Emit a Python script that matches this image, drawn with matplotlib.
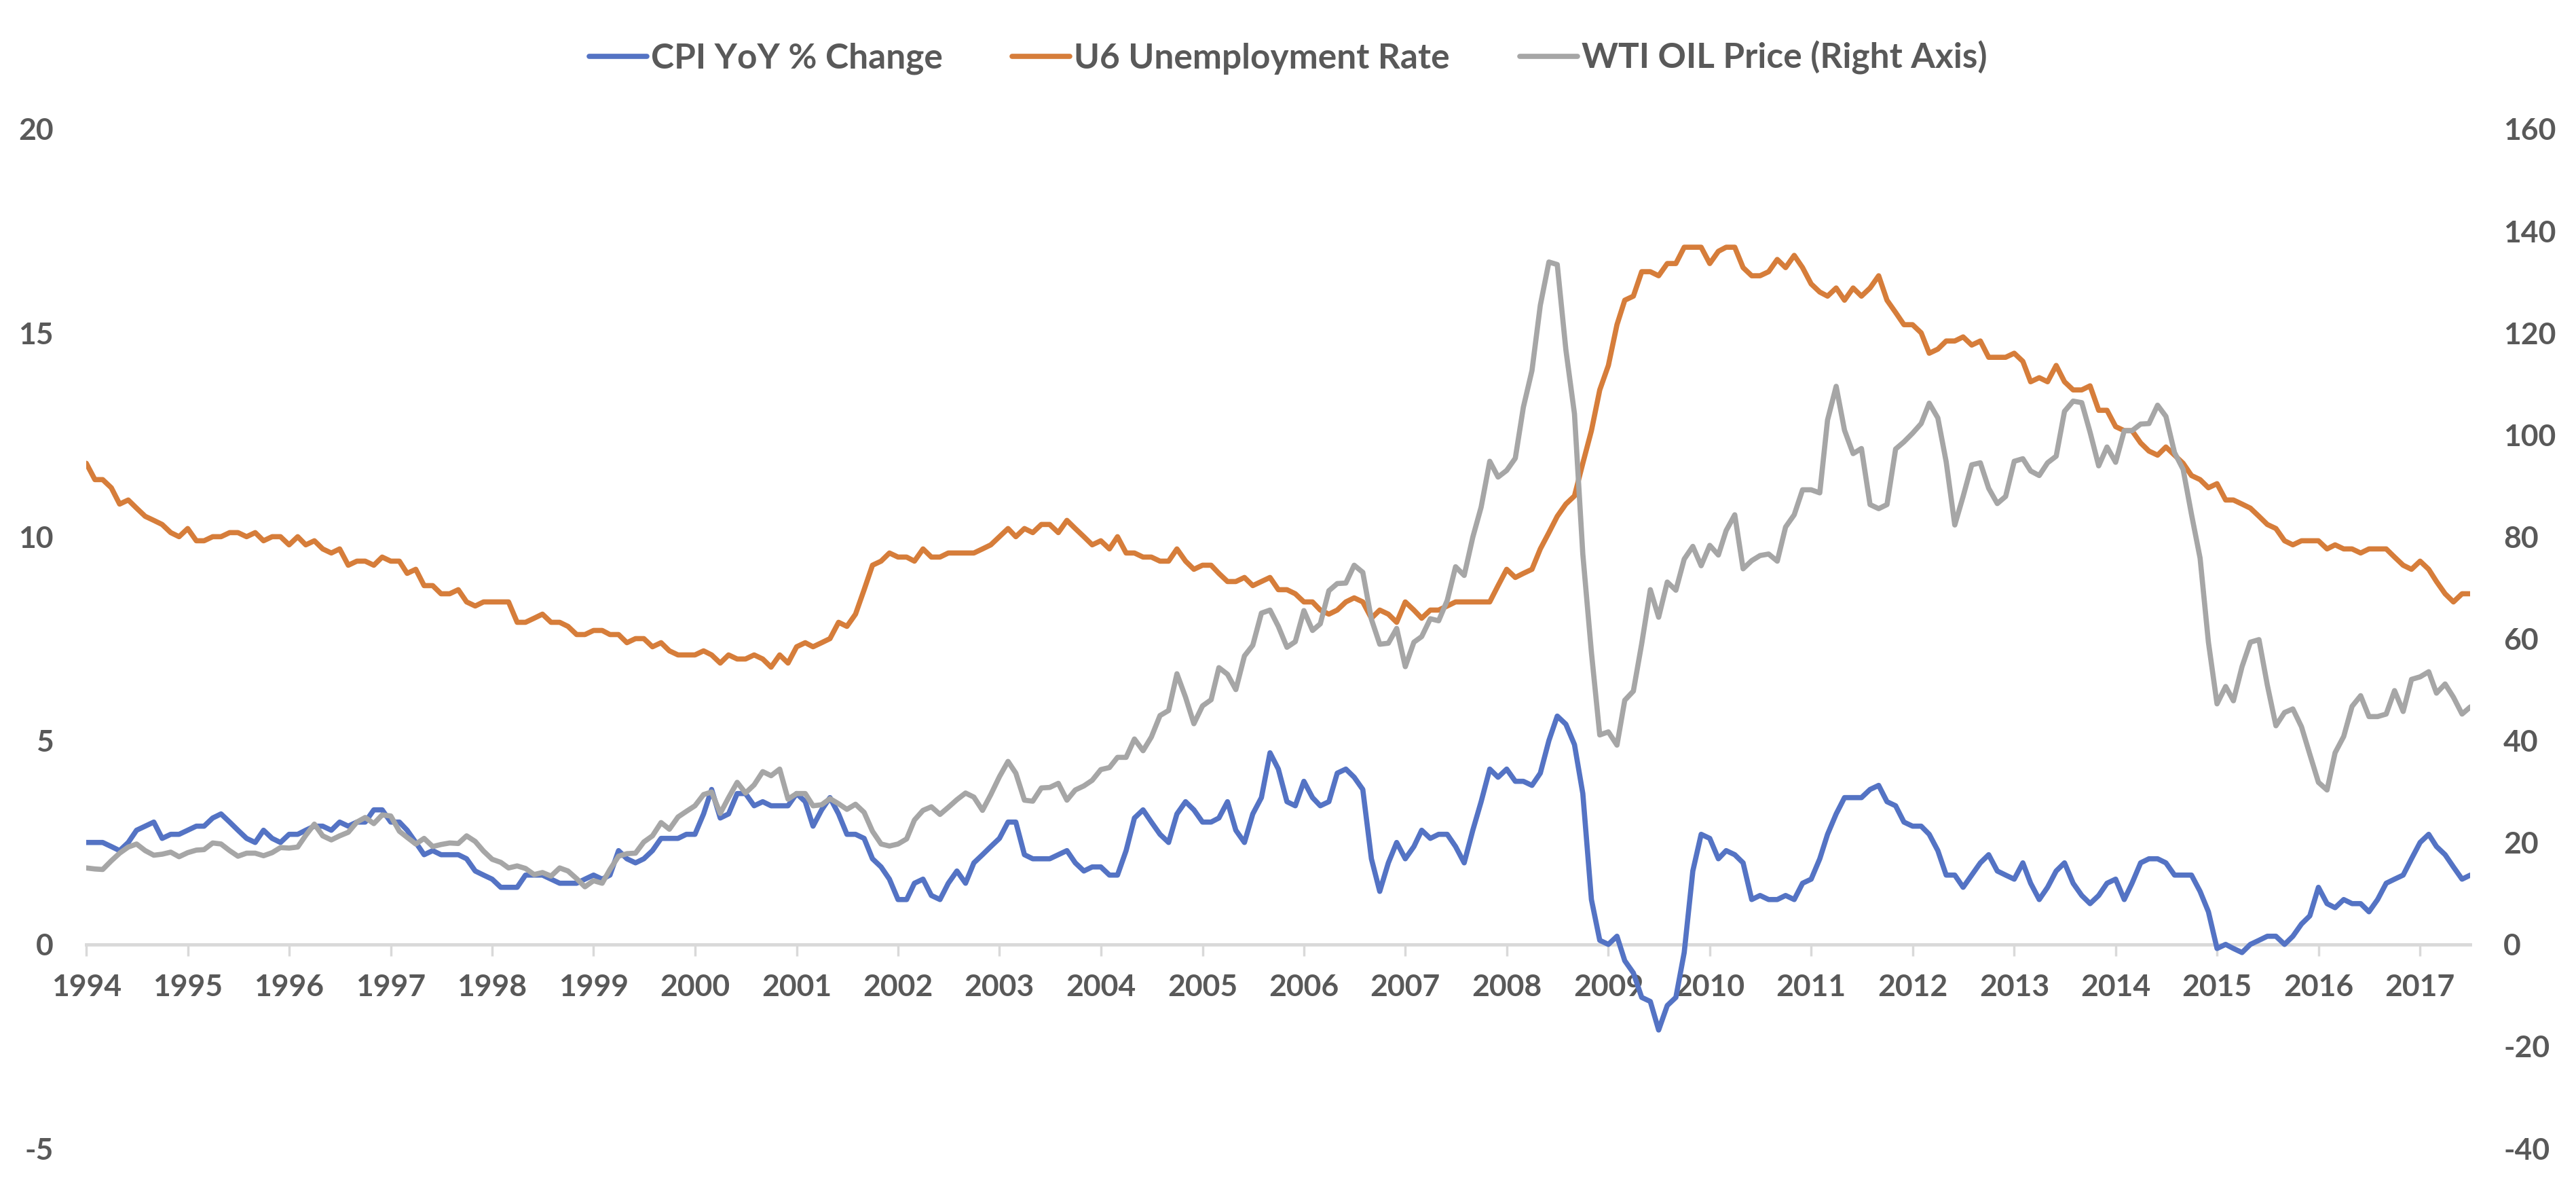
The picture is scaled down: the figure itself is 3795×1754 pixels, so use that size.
import matplotlib
matplotlib.use("Agg")
import matplotlib.pyplot as plt
import pandas as pd
import numpy as np

# ---------------- data (monthly, Jan 1994 - Jul 2017) ----------------
start_month = "1994-01-01"

cpi_yoy = [
    2.5, 2.5, 2.5, 2.4, 2.3, 2.5, 2.8, 2.9, 3.0, 2.6, 2.7, 2.7,   # 1994
    2.8, 2.9, 2.9, 3.1, 3.2, 3.0, 2.8, 2.6, 2.5, 2.8, 2.6, 2.5,   # 1995
    2.7, 2.7, 2.8, 2.9, 2.9, 2.8, 3.0, 2.9, 3.0, 3.0, 3.3, 3.3,   # 1996
    3.0, 3.0, 2.8, 2.5, 2.2, 2.3, 2.2, 2.2, 2.2, 2.1, 1.8, 1.7,   # 1997
    1.6, 1.4, 1.4, 1.4, 1.7, 1.7, 1.7, 1.6, 1.5, 1.5, 1.5, 1.6,   # 1998
    1.7, 1.6, 1.7, 2.3, 2.1, 2.0, 2.1, 2.3, 2.6, 2.6, 2.6, 2.7,   # 1999
    2.7, 3.2, 3.8, 3.1, 3.2, 3.7, 3.7, 3.4, 3.5, 3.4, 3.4, 3.4,   # 2000
    3.7, 3.5, 2.9, 3.3, 3.6, 3.2, 2.7, 2.7, 2.6, 2.1, 1.9, 1.6,   # 2001
    1.1, 1.1, 1.5, 1.6, 1.2, 1.1, 1.5, 1.8, 1.5, 2.0, 2.2, 2.4,   # 2002
    2.6, 3.0, 3.0, 2.2, 2.1, 2.1, 2.1, 2.2, 2.3, 2.0, 1.8, 1.9,   # 2003
    1.9, 1.7, 1.7, 2.3, 3.1, 3.3, 3.0, 2.7, 2.5, 3.2, 3.5, 3.3,   # 2004
    3.0, 3.0, 3.1, 3.5, 2.8, 2.5, 3.2, 3.6, 4.7, 4.3, 3.5, 3.4,   # 2005
    4.0, 3.6, 3.4, 3.5, 4.2, 4.3, 4.1, 3.8, 2.1, 1.3, 2.0, 2.5,   # 2006
    2.1, 2.4, 2.8, 2.6, 2.7, 2.7, 2.4, 2.0, 2.8, 3.5, 4.3, 4.1,   # 2007
    4.3, 4.0, 4.0, 3.9, 4.2, 5.0, 5.6, 5.4, 4.9, 3.7, 1.1, 0.1,   # 2008
    0.0, 0.2, -0.4, -0.7, -1.3, -1.4, -2.1, -1.5, -1.3, -0.2, 1.8, 2.7,  # 2009
    2.6, 2.1, 2.3, 2.2, 2.0, 1.1, 1.2, 1.1, 1.1, 1.2, 1.1, 1.5,   # 2010
    1.6, 2.1, 2.7, 3.2, 3.6, 3.6, 3.6, 3.8, 3.9, 3.5, 3.4, 3.0,   # 2011
    2.9, 2.9, 2.7, 2.3, 1.7, 1.7, 1.4, 1.7, 2.0, 2.2, 1.8, 1.7,   # 2012
    1.6, 2.0, 1.5, 1.1, 1.4, 1.8, 2.0, 1.5, 1.2, 1.0, 1.2, 1.5,   # 2013
    1.6, 1.1, 1.5, 2.0, 2.1, 2.1, 2.0, 1.7, 1.7, 1.7, 1.3, 0.8,   # 2014
    -0.1, 0.0, -0.1, -0.2, 0.0, 0.1, 0.2, 0.2, 0.0, 0.2, 0.5, 0.7,  # 2015
    1.4, 1.0, 0.9, 1.1, 1.0, 1.0, 0.8, 1.1, 1.5, 1.6, 1.7, 2.1,   # 2016
    2.5, 2.7, 2.4, 2.2, 1.9, 1.6, 1.7,                            # 2017
]

u6_rate = [
    11.8, 11.4, 11.4, 11.2, 10.8, 10.9, 10.7, 10.5, 10.4, 10.3, 10.1, 10.0,  # 1994
    10.2, 9.9, 9.9, 10.0, 10.0, 10.1, 10.1, 10.0, 10.1, 9.9, 10.0, 10.0,     # 1995
    9.8, 10.0, 9.8, 9.9, 9.7, 9.6, 9.7, 9.3, 9.4, 9.4, 9.3, 9.5,             # 1996
    9.4, 9.4, 9.1, 9.2, 8.8, 8.8, 8.6, 8.6, 8.7, 8.4, 8.3, 8.4,              # 1997
    8.4, 8.4, 8.4, 7.9, 7.9, 8.0, 8.1, 7.9, 7.9, 7.8, 7.6, 7.6,              # 1998
    7.7, 7.7, 7.6, 7.6, 7.4, 7.5, 7.5, 7.3, 7.4, 7.2, 7.1, 7.1,              # 1999
    7.1, 7.2, 7.1, 6.9, 7.1, 7.0, 7.0, 7.1, 7.0, 6.8, 7.1, 6.9,              # 2000
    7.3, 7.4, 7.3, 7.4, 7.5, 7.9, 7.8, 8.1, 8.7, 9.3, 9.4, 9.6,              # 2001
    9.5, 9.5, 9.4, 9.7, 9.5, 9.5, 9.6, 9.6, 9.6, 9.6, 9.7, 9.8,              # 2002
    10.0, 10.2, 10.0, 10.2, 10.1, 10.3, 10.3, 10.1, 10.4, 10.2, 10.0, 9.8,   # 2003
    9.9, 9.7, 10.0, 9.6, 9.6, 9.5, 9.5, 9.4, 9.4, 9.7, 9.4, 9.2,             # 2004
    9.3, 9.3, 9.1, 8.9, 8.9, 9.0, 8.8, 8.9, 9.0, 8.7, 8.7, 8.6,              # 2005
    8.4, 8.4, 8.2, 8.1, 8.2, 8.4, 8.5, 8.4, 8.0, 8.2, 8.1, 7.9,              # 2006
    8.4, 8.2, 8.0, 8.2, 8.2, 8.3, 8.4, 8.4, 8.4, 8.4, 8.4, 8.8,              # 2007
    9.2, 9.0, 9.1, 9.2, 9.7, 10.1, 10.5, 10.8, 11.0, 11.8, 12.6, 13.6,       # 2008
    14.2, 15.2, 15.8, 15.9, 16.5, 16.5, 16.4, 16.7, 16.7, 17.1, 17.1, 17.1,  # 2009
    16.7, 17.0, 17.1, 17.1, 16.6, 16.4, 16.4, 16.5, 16.8, 16.6, 16.9, 16.6,  # 2010
    16.2, 16.0, 15.9, 16.1, 15.8, 16.1, 15.9, 16.1, 16.4, 15.8, 15.5, 15.2,  # 2011
    15.2, 15.0, 14.5, 14.6, 14.8, 14.8, 14.9, 14.7, 14.8, 14.4, 14.4, 14.4,  # 2012
    14.5, 14.3, 13.8, 13.9, 13.8, 14.2, 13.8, 13.6, 13.6, 13.7, 13.1, 13.1,  # 2013
    12.7, 12.6, 12.6, 12.3, 12.1, 12.0, 12.2, 12.0, 11.8, 11.5, 11.4, 11.2,  # 2014
    11.3, 10.9, 10.9, 10.8, 10.7, 10.5, 10.3, 10.2, 9.9, 9.8, 9.9, 9.9,      # 2015
    9.9, 9.7, 9.8, 9.7, 9.7, 9.6, 9.7, 9.7, 9.7, 9.5, 9.3, 9.2,              # 2016
    9.4, 9.2, 8.9, 8.6, 8.4, 8.6, 8.6,                                       # 2017
]

wti_price = [
    15.0, 14.8, 14.7, 16.4, 17.9, 19.1, 19.7, 18.4, 17.5, 17.7, 18.1, 17.2,     # 1994
    18.0, 18.5, 18.6, 19.9, 19.7, 18.4, 17.3, 17.9, 17.9, 17.4, 18.0, 19.0,     # 1995
    18.9, 19.1, 21.4, 23.6, 21.3, 20.5, 21.3, 22.0, 24.0, 24.9, 23.7, 25.4,     # 1996
    25.2, 22.2, 21.0, 19.7, 20.8, 19.2, 19.6, 19.9, 19.8, 21.3, 20.2, 18.3,     # 1997
    16.7, 16.1, 15.0, 15.4, 14.9, 13.7, 14.1, 13.4, 15.0, 14.4, 12.9, 11.3,     # 1998
    12.5, 12.0, 14.7, 17.3, 17.8, 17.9, 20.1, 21.3, 23.9, 22.6, 25.0, 26.1,     # 1999
    27.2, 29.4, 29.9, 25.7, 28.8, 31.8, 29.7, 31.3, 33.9, 33.1, 34.4, 28.5,     # 2000
    29.6, 29.6, 27.2, 27.4, 28.6, 27.6, 26.5, 27.5, 25.9, 22.2, 19.7, 19.3,     # 2001
    19.7, 20.7, 24.4, 26.3, 27.0, 25.5, 26.9, 28.4, 29.7, 28.9, 26.3, 29.4,     # 2002
    32.9, 35.9, 33.6, 28.3, 28.1, 30.7, 30.8, 31.6, 28.3, 30.3, 31.1, 32.2,     # 2003
    34.3, 34.7, 36.7, 36.7, 40.3, 38.0, 40.7, 44.9, 45.9, 53.1, 48.5, 43.3,     # 2004
    46.8, 48.0, 54.3, 53.0, 50.0, 56.6, 58.7, 65.0, 65.6, 62.4, 58.3, 59.4,     # 2005
    65.5, 61.6, 62.9, 69.4, 70.8, 70.9, 74.4, 73.0, 63.8, 58.9, 59.1, 62.0,     # 2006
    54.5, 59.3, 60.4, 63.9, 63.5, 67.5, 74.1, 72.4, 79.9, 85.8, 94.8, 91.7,     # 2007
    93.0, 95.4, 105.4, 112.6, 125.4, 133.9, 133.4, 116.7, 104.1, 76.6, 57.3, 41.1,  # 2008
    41.7, 39.1, 47.9, 49.7, 59.0, 69.6, 64.2, 71.1, 69.5, 75.6, 78.1, 74.3,     # 2009
    78.3, 76.4, 81.2, 84.3, 73.7, 75.3, 76.3, 76.6, 75.2, 81.9, 84.3, 89.2,     # 2010
    89.2, 88.6, 102.9, 109.5, 100.9, 96.3, 97.3, 86.3, 85.5, 86.3, 97.2, 98.6,  # 2011
    100.3, 102.2, 106.2, 103.3, 94.7, 82.3, 87.9, 94.1, 94.5, 89.5, 86.5, 87.9, # 2012
    94.8, 95.3, 92.9, 92.0, 94.5, 95.8, 104.6, 106.6, 106.3, 100.5, 93.9, 97.6, # 2013
    94.6, 100.8, 100.8, 102.1, 102.2, 105.8, 103.6, 96.5, 93.2, 84.4, 75.8, 59.3,  # 2014
    47.2, 50.6, 47.8, 54.5, 59.3, 59.8, 50.9, 42.9, 45.5, 46.2, 42.7, 37.3,     # 2015
    31.8, 30.3, 37.6, 40.8, 46.7, 48.8, 44.7, 44.7, 45.2, 49.8, 45.7, 52.0,     # 2016
    52.5, 53.5, 49.3, 51.1, 48.5, 45.2, 46.6,                                   # 2017
]

year_labels = [str(y) for y in range(1994, 2018)]
left_ticks = [-5, 0, 5, 10, 15, 20]
right_ticks = [-40, -20, 0, 20, 40, 60, 80, 100, 120, 140, 160]

series_names = ["CPI YoY % Change", "U6 Unemployment Rate", "WTI OIL Price (Right Axis)"]

# ---------------- styling ----------------
plt.rcParams["font.family"] = ["Lato", "DejaVu Sans"]
plt.rcParams["font.weight"] = "bold"
TXT = "#595959"
BLUE, ORANGE, GRAY = "#5473C4", "#D67D3A", "#A6A6A6"
AXIS = "#D9D9D9"

dates = pd.date_range(start_month, periods=len(cpi_yoy), freq="MS")

fig = plt.figure(figsize=(37.95, 17.54), dpi=100)
ax = fig.add_axes([0.0335, 0.0359, 0.9255, 0.8558])
ax2 = ax.twinx()

lw = 5.5
kw = dict(lw=lw, solid_joinstyle="round", solid_capstyle="round", zorder=3)
l1, = ax.plot(dates, cpi_yoy, color=BLUE, **kw)
l2, = ax.plot(dates, u6_rate, color=ORANGE, **kw)
l3, = ax2.plot(dates, wti_price, color=GRAY, **kw)

ax.set_xlim(dates[0], dates[-1])
ax.set_ylim(-5, 20)
ax2.set_ylim(-40, 160)
ax.set_yticks(left_ticks)
ax2.set_yticks(right_ticks)
ax.set_yticklabels([str(t) for t in left_ticks])
ax2.set_yticklabels([str(t) for t in right_ticks])

xt = pd.to_datetime([f"{y}-01-01" for y in year_labels])
ax.set_xticks(xt)
ax.set_xticklabels(year_labels)

for a in (ax, ax2):
    for s in ("top", "left", "right", "bottom"):
        a.spines[s].set_visible(False)
ax.spines["bottom"].set_visible(True)
ax.spines["bottom"].set_position(("data", 0))
ax.spines["bottom"].set_color(AXIS)
ax.spines["bottom"].set_linewidth(3.5)
ax.spines["bottom"].set_zorder(1)

ax.tick_params(axis="x", direction="out", length=12, width=2.5, color=AXIS,
               labelsize=32, labelcolor=TXT, pad=19)
ax.tick_params(axis="y", length=0, labelsize=32, labelcolor=TXT, pad=35)
ax2.tick_params(axis="y", length=0, labelsize=32, labelcolor=TXT, pad=35)
ax2.tick_params(axis="x", length=0)
for lab in ax.get_xticklabels() + ax.get_yticklabels() + ax2.get_yticklabels():
    lab.set_fontweight("bold")

leg = fig.legend([l1, l2, l3], series_names, loc="center", bbox_to_anchor=(0.5, 0.9515),
                 ncol=3, frameon=False, fontsize=37, handlelength=1.65,
                 handletextpad=0.12, columnspacing=2.0)
for t in leg.get_texts():
    t.set_color(TXT)
    t.set_fontweight("bold")

fig.savefig("out.png", dpi=100)
